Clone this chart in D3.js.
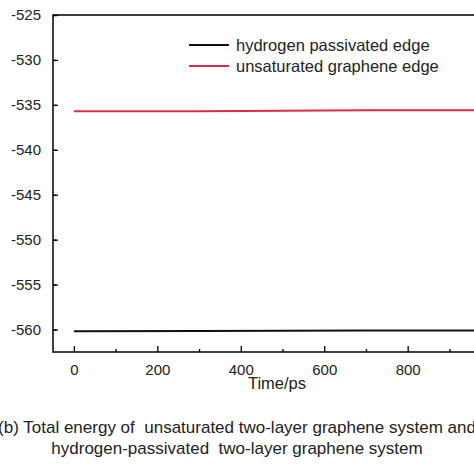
<!DOCTYPE html>
<html><head><meta charset="utf-8">
<script src="https://cdn.jsdelivr.net/npm/d3@7"></script>
<style>body{margin:0;background:#fff;overflow:hidden}text{font-family:"Liberation Sans",Arial,sans-serif;white-space:pre}</style>
</head><body><svg id="c" width="474" height="474"></svg>
<script>
// data
var times = [0, 300, 700, 1000, 1050];
var hydrogen = [-560.2, -560.15, -560.1, -560.1, -560.1];
var unsaturated = [-535.7, -535.7, -535.6, -535.6, -535.6];
var seriesNames = ["hydrogen passivated edge", "unsaturated graphene edge"];
var colors = ["#111", "#e0284a"];
var xTicks = [0, 200, 400, 600, 800];
var yTicks = [-525, -530, -535, -540, -545, -550, -555, -560];

var svg = d3.select("#c");
var x = d3.scaleLinear().domain([-50, 1050]).range([53, 512]);
var y = d3.scaleLinear().domain([-562.5, -525]).range([352, 15]);

// frame
svg.append("rect").attr("x", 53).attr("y", 15).attr("width", 500).attr("height", 337)
  .attr("fill", "none").attr("stroke", "#000").attr("stroke-width", 1.5);

var fmt = function(d) { return String(d); };
svg.append("g").attr("transform", "translate(0,352)")
  .call(d3.axisBottom(x).tickValues(xTicks).tickSize(-6).tickPadding(12).tickFormat(fmt));
svg.append("g").attr("transform", "translate(0,352)")
  .call(d3.axisBottom(x).tickValues([100, 300, 500, 700, 900]).tickSize(-3).tickFormat(""));
svg.append("g").attr("transform", "translate(53,0)")
  .call(d3.axisLeft(y).tickValues(yTicks).tickSize(-5).tickPadding(12).tickFormat(fmt));
svg.append("g").attr("transform", "translate(53,0)")
  .call(d3.axisLeft(y).tickValues(d3.range(-562.5, -525, 5).map(function(v){return v + 2.5;})).tickSize(-3).tickFormat(""));
svg.selectAll(".domain").remove();
svg.selectAll(".tick line").attr("stroke-width", 1.3);
svg.selectAll(".tick text").attr("font-size", 15).attr("fill", "#222");

var line = d3.line().x(function(d){return x(d[0]);}).y(function(d){return y(d[1]);});
[hydrogen, unsaturated].forEach(function(s, i) {
  svg.append("path").datum(times.map(function(t, j){return [t, s[j]];}))
    .attr("d", line).attr("fill", "none").attr("stroke", colors[i]).attr("stroke-width", 2);
});

// legend
seriesNames.forEach(function(n, i) {
  var yy = 45 + i * 21;
  svg.append("line").attr("x1", 189).attr("x2", 229).attr("y1", yy).attr("y2", yy)
    .attr("stroke", colors[i]).attr("stroke-width", 2);
  svg.append("text").attr("x", 236).attr("y", yy + 6).attr("font-size", 16.5).attr("fill", "#222").text(n);
});

svg.append("text").attr("x", 277).attr("y", 389).attr("text-anchor", "middle")
  .attr("font-size", 16.5).attr("fill", "#222").text("Time/ps");
svg.append("text").attr("x", 237).attr("y", 433).attr("text-anchor", "middle")
  .attr("font-size", 17).attr("fill", "#222").text("(b) Total energy of  unsaturated two-layer graphene system and");
svg.append("text").attr("x", 237).attr("y", 454).attr("text-anchor", "middle")
  .attr("font-size", 17).attr("fill", "#222").text("hydrogen-passivated  two-layer graphene system");
</script></body></html>
